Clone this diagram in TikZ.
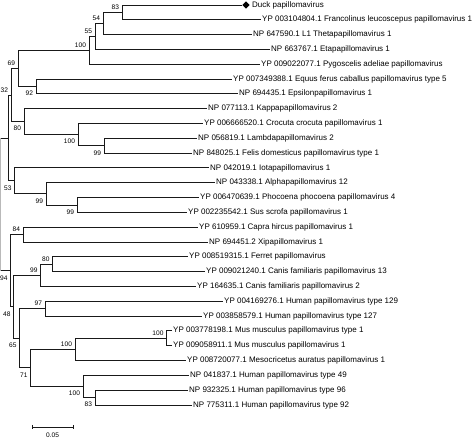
\documentclass[tikz,border=0pt]{standalone}
\usepackage{fontspec}
\setmainfont{Liberation Sans}
\usetikzlibrary{shapes.geometric}
\begin{document}
\begin{tikzpicture}[x=1pt,y=-1pt,
  br/.style={line width=0.95pt, black!90},
  rootline/.style={line width=0.95pt, gray!55},
  leaf/.style={anchor=west, inner sep=1.5pt, font=\fontsize{8}{9}\selectfont},
  bsa/.style={anchor=south east, inner sep=0pt, font=\fontsize{6.6}{7}\selectfont, xshift=-2.8pt, yshift=2.5pt},
  bsb/.style={anchor=north east, inner sep=0pt, font=\fontsize{6.6}{7}\selectfont, xshift=-2.8pt, yshift=-4.5pt},
  mark diamond/.style={diamond, fill=black, inner sep=0pt, minimum size=7.5pt}]
\useasboundingbox (0,0) rectangle (474,438);
% leaves
\node[mark diamond] (dm) at (246,5) {};
\node[leaf] (l1) at (250.5,5) {Duck papillomavirus};
\node[leaf] (l2) at (260.5,19.81) {YP 003104804.1 Francolinus leucoscepus papillomavirus 1};
\node[leaf] (l3) at (251.5,34.63) {NP 647590.1 L1 Thetapapillomavirus 1};
\node[leaf] (l4) at (269.5,49.44) {NP 663767.1 Etapapillomavirus 1};
\node[leaf] (l5) at (259.5,64.26) {YP 009022077.1 Pygoscelis adeliae papillomavirus};
\node[leaf] (l6) at (231.5,79.07) {YP 007349388.1 Equus ferus caballus papillomavirus type 5};
\node[leaf] (l7) at (237.5,93.89) {NP 694435.1 Epsilonpapillomavirus 1};
\node[leaf] (l8) at (206.5,108.70) {NP 077113.1 Kappapapillomavirus 2};
\node[leaf] (l9) at (202.5,123.52) {YP 006666520.1 Crocuta crocuta papillomavirus 1};
\node[leaf] (l10) at (196.5,138.33) {NP 056819.1 Lambdapapillomavirus 2};
\node[leaf] (l11) at (191.5,153.15) {NP 848025.1 Felis domesticus papillomavirus type 1};
\node[leaf] (l12) at (208.5,167.96) {NP 042019.1 Iotapapillomavirus 1};
\node[leaf] (l13) at (214.5,182.78) {NP 043338.1 Alphapapillomavirus 12};
\node[leaf] (l14) at (198.5,197.59) {YP 006470639.1 Phocoena phocoena papillomavirus 4};
\node[leaf] (l15) at (186.5,212.41) {YP 002235542.1 Sus scrofa papillomavirus 1};
\node[leaf] (l16) at (197.5,227.22) {YP 610959.1 Capra hircus papillomavirus 1};
\node[leaf] (l17) at (207.5,242.04) {NP 694451.2 Xipapillomavirus 1};
\node[leaf] (l18) at (187.5,256.85) {YP 008519315.1 Ferret papillomavirus};
\node[leaf] (l19) at (204.5,271.67) {YP 009021240.1 Canis familiaris papillomavirus 13};
\node[leaf] (l20) at (195.5,286.48) {YP 164635.1 Canis familiaris papillomavirus 2};
\node[leaf] (l21) at (222.5,301.30) {YP 004169276.1 Human papillomavirus type 129};
\node[leaf] (l22) at (201.5,316.11) {YP 003858579.1 Human papillomavirus type 127};
\node[leaf] (l23) at (171.5,330.93) {YP 003778198.1 Mus musculus papillomavirus type 1};
\node[leaf] (l24) at (171.5,345.74) {YP 009058911.1 Mus musculus papillomavirus 1};
\node[leaf] (l25) at (185.5,360.56) {YP 008720077.1 Mesocricetus auratus papillomavirus 1};
\node[leaf] (l26) at (188.5,375.37) {NP 041837.1 Human papillomavirus type 49};
\node[leaf] (l27) at (187.5,390.19) {NP 932325.1 Human papillomavirus type 96};
\node[leaf] (l28) at (191.5,405) {NP 775311.1 Human papillomavirus type 92};
% internal nodes
\coordinate (n83) at (122,12.41);
\coordinate (n54) at (103,23.52);
\coordinate (n55) at (95,36.48);
\coordinate (n100a) at (89,50.37);
\coordinate (n92) at (36,86.48);
\coordinate (n69) at (18,68.43);
\coordinate (n99a) at (104,145.74);
\coordinate (n100b) at (78,134.63);
\coordinate (n80a) at (24,121.67);
\coordinate (n32) at (11,95.05);
\coordinate (n99c) at (77,205);
\coordinate (n99b) at (46,193.89);
\coordinate (n53) at (14.5,180.93);
\coordinate (nU) at (8,137.99);
\coordinate (n84) at (23,234.63);
\coordinate (n80b) at (52.5,264.26);
\coordinate (n99d) at (40.5,275.37);
\coordinate (n97) at (45,308.70);
\coordinate (n100c) at (166.5,338.33);
\coordinate (n100d) at (75,349.44);
\coordinate (n83b) at (95,397.59);
\coordinate (n100e) at (83,386.48);
\coordinate (n71) at (30.5,367.96);
\coordinate (n65) at (19.5,338.33);
\coordinate (n48) at (13.5,306.85);
\coordinate (n94) at (10.5,270.74);
\coordinate (root) at (0.8,204.4);
% branches
\draw[rootline] (root |- nU) -- (root |- n94);
\draw[br] (root |- nU) -- (nU);
\draw[br] (root |- n94) -- (n94);
\draw[br] (n83) |- (dm.west);
\draw[br] (n83) |- (l2.west);
\draw[br] (n54) |- (n83);
\draw[br] (n54) |- (l3.west);
\draw[br] (n55) |- (n54);
\draw[br] (n55) |- (l4.west);
\draw[br] (n100a) |- (n55);
\draw[br] (n100a) |- (l5.west);
\draw[br] (n92) |- (l6.west);
\draw[br] (n92) |- (l7.west);
\draw[br] (n69) |- (n100a);
\draw[br] (n69) |- (n92);
\draw[br] (n99a) |- (l10.west);
\draw[br] (n99a) |- (l11.west);
\draw[br] (n100b) |- (l9.west);
\draw[br] (n100b) |- (n99a);
\draw[br] (n80a) |- (l8.west);
\draw[br] (n80a) |- (n100b);
\draw[br] (n32) |- (n69);
\draw[br] (n32) |- (n80a);
\draw[br] (n99c) |- (l14.west);
\draw[br] (n99c) |- (l15.west);
\draw[br] (n99b) |- (l13.west);
\draw[br] (n99b) |- (n99c);
\draw[br] (n53) |- (l12.west);
\draw[br] (n53) |- (n99b);
\draw[br] (nU) |- (n32);
\draw[br] (nU) |- (n53);
\draw[br] (n84) |- (l16.west);
\draw[br] (n84) |- (l17.west);
\draw[br] (n80b) |- (l18.west);
\draw[br] (n80b) |- (l19.west);
\draw[br] (n99d) |- (n80b);
\draw[br] (n99d) |- (l20.west);
\draw[br] (n97) |- (l21.west);
\draw[br] (n97) |- (l22.west);
\draw[br] (n100c) |- (l23.west);
\draw[br] (n100c) |- (l24.west);
\draw[br] (n100d) |- (n100c);
\draw[br] (n100d) |- (l25.west);
\draw[br] (n83b) |- (l27.west);
\draw[br] (n83b) |- (l28.west);
\draw[br] (n100e) |- (l26.west);
\draw[br] (n100e) |- (n83b);
\draw[br] (n71) |- (n100d);
\draw[br] (n71) |- (n100e);
\draw[br] (n65) |- (n97);
\draw[br] (n65) |- (n71);
\draw[br] (n48) |- (n99d);
\draw[br] (n48) |- (n65);
\draw[br] (n94) |- (n84);
\draw[br] (n94) |- (n48);
% bootstrap values
\node[bsa] (b83) at (n83) {83};
\node[bsa] (b54) at (n54) {54};
\node[bsa] (b55) at (n55) {55};
\node[bsa] (b100a) at (n100a) {100};
\node[bsa] (b69) at (n69) {69};
\node[bsa] (b32) at (n32) {32};
\node[bsa] (b84) at (n84) {84};
\node[bsa] (b80b) at (n80b) {80};
\node[bsa] (b99d) at (n99d) {99};
\node[bsa] (b97) at (n97) {97};
\node[bsa] (b100c) at (n100c) {100};
\node[bsa] (b100d) at (n100d) {100};
\node[bsb] (b92) at (n92) {92};
\node[bsb] (b80a) at (n80a) {80};
\node[bsb] (b100b) at (n100b) {100};
\node[bsb] (b99a) at (n99a) {99};
\node[bsb] (b53) at (n53) {53};
\node[bsb] (b99b) at (n99b) {99};
\node[bsb] (b99c) at (n99c) {99};
\node[bsb] (b94) at (n94) {94};
\node[bsb] (b48) at (n48) {48};
\node[bsb] (b65) at (n65) {65};
\node[bsb] (b71) at (n71) {71};
\node[bsb] (b100e) at (n100e) {100};
\node[bsb] (b83b) at (n83b) {83};
% scale bar
\coordinate (sb1) at (32,427);
\coordinate (sb2) at (73,427);
\draw[br] (sb1) -- (sb2);
\draw[br] ([yshift=2.2pt]sb1) -- ([yshift=-2.2pt]sb1);
\draw[br] ([yshift=2.2pt]sb2) -- ([yshift=-2.2pt]sb2);
\node[font=\fontsize{6.6}{7}\selectfont, inner sep=0pt] (sbl) at (52.5,435) {0.05};
\end{tikzpicture}
\end{document}
